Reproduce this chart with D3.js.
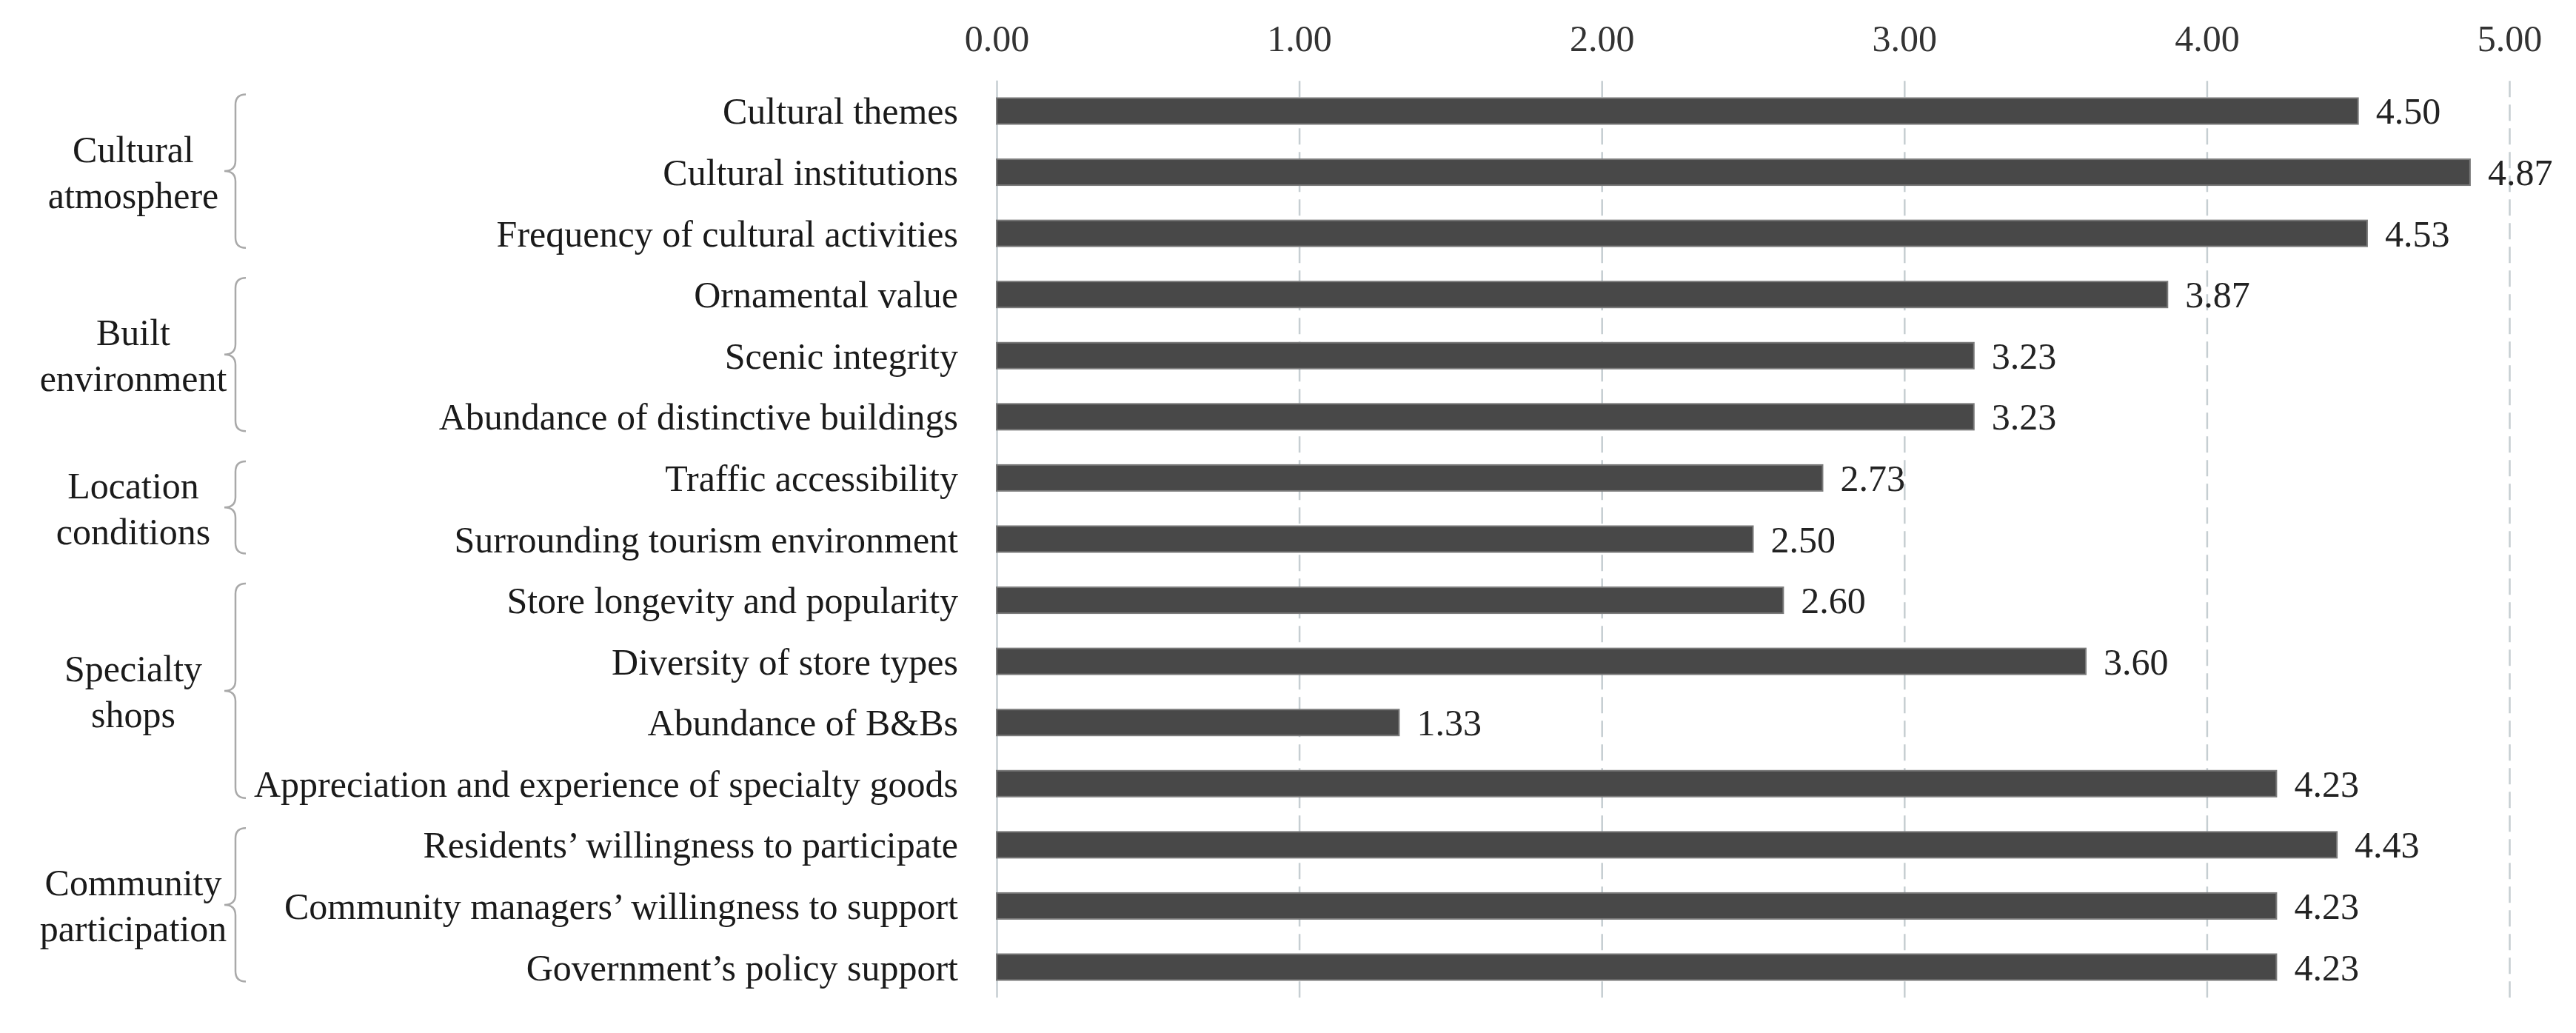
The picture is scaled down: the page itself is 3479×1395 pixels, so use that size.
<!DOCTYPE html>
<html>
<head>
<meta charset="utf-8">
<script src="https://cdn.jsdelivr.net/npm/d3@7"></script>
<style>
  body { margin: 0; background: #fff; }
  svg { display: block; font-family: "Liberation Serif", "Times New Roman", serif; }
</style>
</head>
<body>
<div id="container"></div>
<script>
/* CONSTANTS AND GLOBALS */
const width = 3479,
      height = 1395,
      fontSize = 50;

/* DATA */
const categories = [
  "Cultural themes",
  "Cultural institutions",
  "Frequency of cultural activities",
  "Ornamental value",
  "Scenic integrity",
  "Abundance of distinctive buildings",
  "Traffic accessibility",
  "Surrounding tourism environment",
  "Store longevity and popularity",
  "Diversity of store types",
  "Abundance of B&Bs",
  "Appreciation and experience of specialty goods",
  "Residents\u2019 willingness to participate",
  "Community managers\u2019 willingness to support",
  "Government\u2019s policy support"
];
const values = [4.50, 4.87, 4.53, 3.87, 3.23, 3.23, 2.73, 2.50, 2.60, 3.60, 1.33, 4.23, 4.43, 4.23, 4.23];

const groupNames = [
  ["Cultural", "atmosphere"],
  ["Built", "environment"],
  ["Location", "conditions"],
  ["Specialty", "shops"],
  ["Community", "participation"]
];
// first and last category index of each group
const groupSpans = [[0, 2], [3, 5], [6, 7], [8, 11], [12, 14]];

const xTicks = [0, 1, 2, 3, 4, 5];

/* SCALES */
const xScale = d3.scaleLinear()
  .domain([0, 5])
  .range([1346, 3389]);

const yScale = d3.scaleBand()
  .domain(categories)
  .range([108.7, 1347.3])
  .paddingInner(0.576)
  .paddingOuter(0.288);

/* SVG */
const svg = d3.select("#container")
  .append("svg")
  .attr("width", width)
  .attr("height", height);

svg.append("rect")
  .attr("width", width)
  .attr("height", height)
  .attr("fill", "#fff");

// + AXIS (top labels, grid lines from the ticks)
const gridTop = yScale.range()[0],
      gridBottom = yScale.range()[1];

const xAxis = d3.axisTop(xScale)
  .tickValues(xTicks)
  .tickFormat(d3.format(".2f"))
  .tickSize(gridBottom - gridTop)
  .tickPadding(40);

const gx = svg.append("g")
  .attr("transform", `translate(0, ${gridBottom})`)
  .call(xAxis);

gx.select(".domain").remove();
gx.selectAll(".tick line")
  .attr("stroke", "#c6ced2")
  .attr("stroke-width", 2.5)
  .attr("stroke-dasharray", d => d === 0 ? null : "22,10");
gx.selectAll(".tick text")
  .attr("fill", "#333")
  .style("font-size", fontSize + "px")
  .style("font-family", "Liberation Serif");

/* BARS */
svg.append("g")
  .selectAll("rect")
  .data(categories)
  .join("rect")
    .attr("x", xScale(0))
    .attr("y", d => yScale(d))
    .attr("width", (d, i) => xScale(values[i]) - xScale(0))
    .attr("height", yScale.bandwidth())
    .attr("fill", "#484848")
    .attr("stroke", "#7a7a7a")
    .attr("stroke-width", 2);

// value labels
svg.append("g")
  .selectAll("text")
  .data(categories)
  .join("text")
    .attr("x", (d, i) => xScale(values[i]) + 24)
    .attr("y", d => yScale(d) + yScale.bandwidth() / 2)
    .attr("dy", "0.35em")
    .attr("fill", "#222")
    .style("font-size", fontSize + "px")
    .text((d, i) => values[i].toFixed(2));

// category labels
svg.append("g")
  .selectAll("text")
  .data(categories)
  .join("text")
    .attr("x", 1294)
    .attr("y", d => yScale(d) + yScale.bandwidth() / 2)
    .attr("dy", "0.35em")
    .attr("text-anchor", "end")
    .attr("fill", "#1a1a1a")
    .style("font-size", fontSize + "px")
    .text(d => d);

/* GROUP BRACES */
const braceEnd = 332, braceLine = 318, braceTip = 303, r = 14;

const bracePath = ([a, b]) => {
  const top = yScale(categories[a]) - 5,
        bottom = yScale(categories[b]) + yScale.bandwidth() + 2,
        mid = (top + bottom) / 2;
  const p = d3.path();
  p.moveTo(braceEnd, top);
  p.quadraticCurveTo(braceLine, top, braceLine, top + r);
  p.lineTo(braceLine, mid - r);
  p.quadraticCurveTo(braceLine, mid, braceTip, mid);
  p.quadraticCurveTo(braceLine, mid, braceLine, mid + r);
  p.lineTo(braceLine, bottom - r);
  p.quadraticCurveTo(braceLine, bottom, braceEnd, bottom);
  return p.toString();
};

svg.append("g")
  .selectAll("path")
  .data(groupSpans)
  .join("path")
    .attr("d", bracePath)
    .attr("fill", "none")
    .attr("stroke", "#a9a9a9")
    .attr("stroke-width", 2.5);

const groupLabels = svg.append("g")
  .selectAll("text")
  .data(groupNames)
  .join("text")
    .attr("text-anchor", "middle")
    .attr("fill", "#1a1a1a")
    .style("font-size", fontSize + "px")
    .attr("transform", (d, i) => {
      const [a, b] = groupSpans[i];
      const mid = (yScale(categories[a]) + yScale(categories[b]) + yScale.bandwidth()) / 2;
      return `translate(180, ${mid})`;
    });

groupLabels.selectAll("tspan")
  .data(d => d)
  .join("tspan")
    .attr("x", 0)
    .attr("y", (d, i) => i === 0 ? -14 : 48)
    .text(d => d);
</script>
</body>
</html>
